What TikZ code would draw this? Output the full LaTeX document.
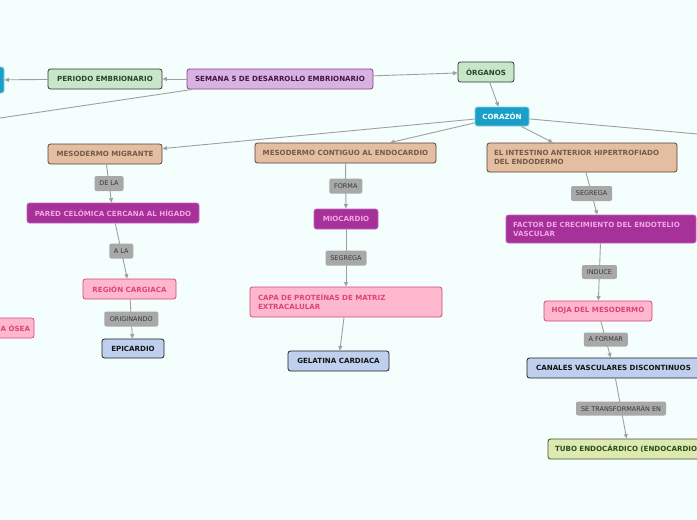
\documentclass[tikz,border=0pt]{standalone}
\usepackage{fontspec}
\setmainfont{DejaVu Sans}
\usetikzlibrary{arrows.meta}
\newfontfamily\boldnf{DejaVu Sans Bold}
\definecolor{bgc}{RGB}{244,254,253}
\definecolor{linec}{RGB}{160,160,160}
\definecolor{gfill}{RGB}{200,230,201}
\definecolor{gdraw}{RGB}{40,60,40}
\definecolor{gtext}{RGB}{40,70,40}
\definecolor{pufill}{RGB}{216,178,225}
\definecolor{pudraw}{RGB}{140,60,140}
\definecolor{putext}{RGB}{70,20,70}
\definecolor{blfill}{RGB}{26,160,200}
\definecolor{bldraw}{RGB}{130,205,230}
\definecolor{brfill}{RGB}{228,190,160}
\definecolor{brdraw}{RGB}{90,65,50}
\definecolor{brtext}{RGB}{115,90,75}
\definecolor{mgfill}{RGB}{166,49,152}
\definecolor{mgdraw}{RGB}{200,95,190}
\definecolor{mgtext}{RGB}{242,165,232}
\definecolor{pkfill}{RGB}{255,183,206}
\definecolor{pkdraw}{RGB}{212,70,120}
\definecolor{pktext}{RGB}{215,70,120}
\definecolor{lbfill}{RGB}{190,208,238}
\definecolor{lbdraw}{RGB}{30,30,30}
\definecolor{lbtext}{RGB}{20,20,20}
\definecolor{ygfill}{RGB}{222,232,178}
\definecolor{ygdraw}{RGB}{60,80,30}
\definecolor{ygtext}{RGB}{40,80,20}
\definecolor{lblfill}{RGB}{168,168,168}
\definecolor{lbltext}{RGB}{55,55,55}
\tikzset{
  box/.style={rounded corners=2.5pt, draw, line width=0.8pt, inner sep=0pt,
    font=\boldnf\fontsize{7.1}{9}\selectfont, minimum height=20pt},
  gbox/.style={box, fill=gfill, draw=gdraw, text=gtext},
  pubox/.style={box, fill=pufill, draw=pudraw, text=putext},
  blbox/.style={box, fill=blfill, draw=bldraw, text=white},
  brbox/.style={box, fill=brfill, draw=brdraw, text=brtext},
  mgbox/.style={box, fill=mgfill, draw=mgdraw, text=mgtext},
  pkbox/.style={box, fill=pkfill, draw=pkdraw, text=pktext},
  lbbox/.style={box, fill=lbfill, draw=lbdraw, text=lbtext},
  ygbox/.style={box, fill=ygfill, draw=ygdraw, text=ygtext},
  lbl/.style={rounded corners=2pt, fill=lblfill, text=lbltext, inner sep=0pt,
    minimum height=15pt, font=\fontsize{6.5}{8}\selectfont},
  conn/.style={draw=linec, line width=0.9pt, -{Triangle[length=4.5pt,width=4pt]}},
  plain/.style={draw=linec, line width=0.9pt},
}
\begin{document}
\begin{tikzpicture}[x=1pt,y=-1pt]
\useasboundingbox (0,0) rectangle (697,520);
\clip (0,0) rectangle (697,520);
\fill[bgc] (0,0) rectangle (697,520);

% nodes
\node[blbox, minimum width=44pt, minimum height=26pt] (blue) at (-18,80) {};
\node[gbox, minimum width=114pt] (periodo) at (105,79) {PERIODO EMBRIONARIO};
\node[pubox, minimum width=186pt] (semana) at (280,79) {SEMANA 5 DE DESARROLLO EMBRIONARIO};
\node[gbox, minimum width=56pt] (organos) at (486,72) {ÓRGANOS};
\node[blbox, minimum width=54pt, minimum height=19pt] (corazon) at (502,116.5) {CORAZÓN};
\node[brbox, minimum width=114pt] (mmig) at (105,154) {MESODERMO MIGRANTE};
\node[brbox, minimum width=181pt] (mcont) at (345.5,153) {MESODERMO CONTIGUO AL ENDOCARDIO};
\node[brbox, minimum width=190pt, minimum height=29pt, text width=176pt, align=left] (intest) at (582,157.5) {EL INTESTINO ANTERIOR HIPERTROFIADO\\DEL ENDODERMO};
\node[mgbox, minimum width=172pt] (pared) at (113,213) {PARED CELÓMICA CERCANA AL HÍGADO};
\node[pkbox, minimum width=93pt] (region) at (129.5,289) {REGIÓN CARGIACA};
\node[lbbox, minimum width=62pt, minimum height=19pt] (epic) at (133,348.5) {EPICARDIO};
\node[pkbox, minimum width=64pt, text width=56pt, align=right] (osea) at (2,328) {A ÓSEA};
\node[mgbox, minimum width=64pt] (mio) at (346,219) {MIOCARDIO};
\node[pkbox, minimum width=192pt, minimum height=30pt, text width=176pt, align=left] (capa) at (346,302) {CAPA DE PROTEÍNAS DE MATRIZ\\EXTRACALULAR};
\node[lbbox, minimum width=101pt] (gel) at (338.5,361) {GELATINA CARDIACA};
\node[mgbox, minimum width=190pt, minimum height=28pt, text width=176pt, align=left] (factor) at (601,229) {FACTOR DE CRECIMIENTO DEL ENDOTELIO\\VASCULAR};
\node[pkbox, minimum width=108pt] (hoja) at (598,311) {HOJA DEL MESODERMO};
\node[lbbox, minimum width=173pt] (canales) at (613.5,368) {CANALES VASCULARES DISCONTINUOS};
\node[ygbox, minimum width=212pt, text width=198pt, align=left] (tubo) at (654,449) {TUBO ENDOCÁRDICO (ENDOCARDIO)};

\coordinate (leftoff) at (-10,119.5);
\coordinate (rightoff) at (720,136);
\coordinate (tubotop) at ([xshift=79pt]tubo.north west);

% connectors
\draw[conn] (semana) -- (periodo);
\draw[conn] (periodo) -- (blue);
\draw[conn] (semana) -- (organos);
\draw[plain] ([xshift=6pt]semana.south west) -- (leftoff);
\draw[conn] (organos) -- (corazon);
\draw[conn] (corazon) -- (mmig);
\draw[conn] (corazon) -- (mcont);
\draw[conn] (corazon) -- (intest);
\draw[plain] (corazon) -- (rightoff);
\draw[conn] (mmig) -- node[lbl, minimum width=29pt] (dela) {DE LA} (pared);
\draw[conn] (pared) -- node[lbl, minimum width=24pt] (ala) {A LA} (region);
\draw[conn] (region) -- node[lbl, minimum width=54pt] (orig) {ORIGINANDO} (epic);
\draw[conn] (mcont) -- node[lbl, minimum width=33pt] (forma) {FORMA} (mio);
\draw[conn] (mio) -- node[lbl, minimum width=41pt] (segA) {SEGREGA} (capa);
\draw[conn] (capa) -- (gel);
\draw[conn] (intest) -- node[lbl, minimum width=41pt] (segB) {SEGREGA} (factor);
\draw[conn] (factor) -- node[lbl, minimum width=35pt, minimum height=14pt] (induce) {INDUCE} (hoja);
\draw[conn] (hoja) -- node[lbl, minimum width=44pt, minimum height=14pt] (aformar) {A FORMAR} (canales);
\draw[conn] (canales) -- node[lbl, minimum width=90pt, minimum height=14pt] (setrans) {SE TRANSFORMARÁN EN} (tubotop);
\end{tikzpicture}
\end{document}
